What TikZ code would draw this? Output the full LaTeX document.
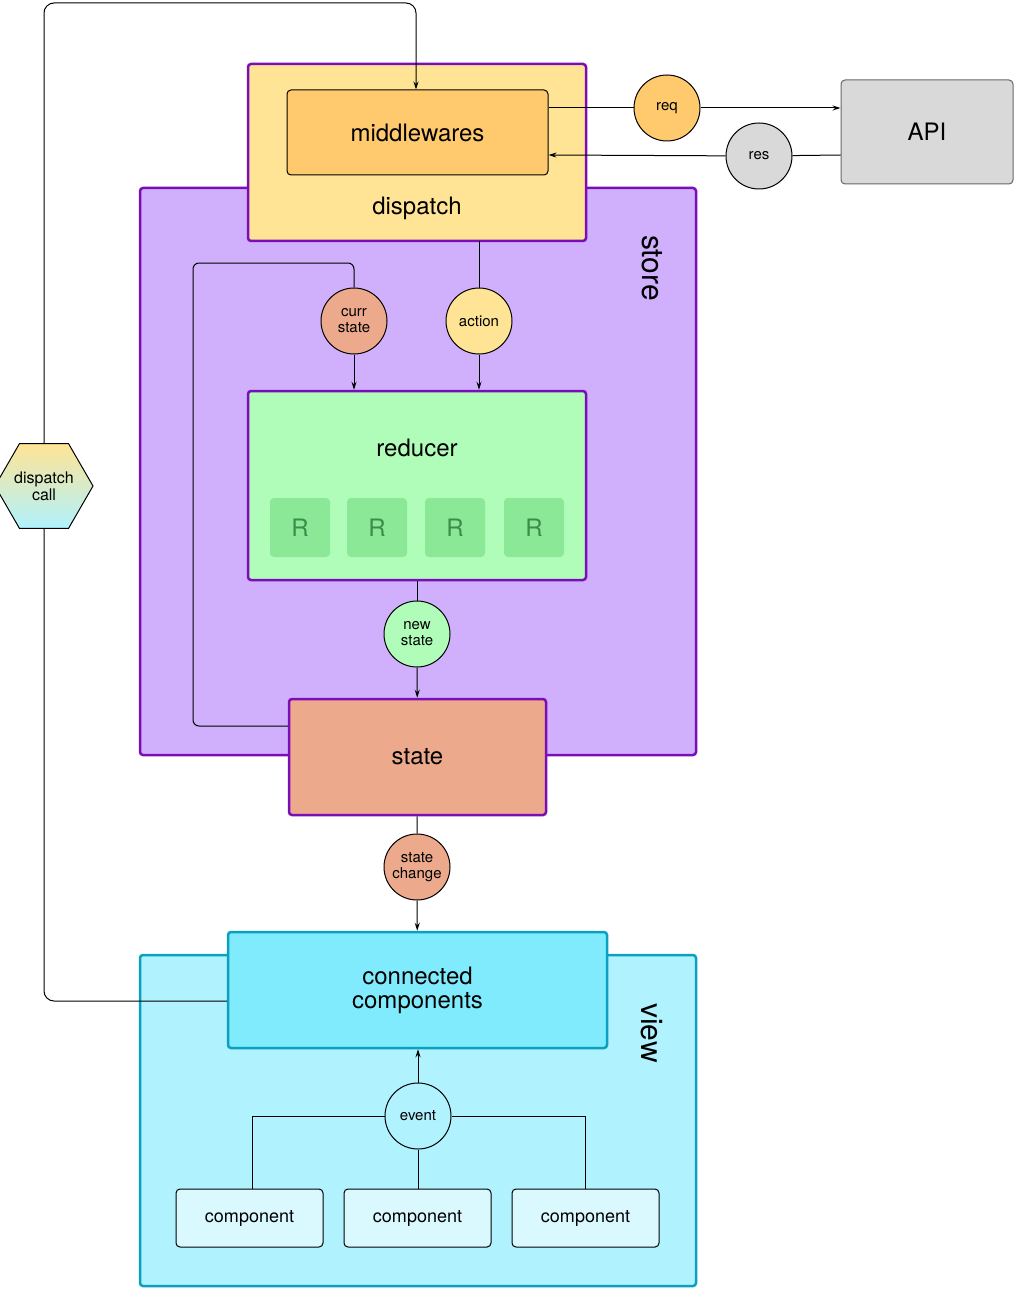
\documentclass[tikz,border=0pt]{standalone}
\usepackage{fontspec}
\setmainfont{TeX Gyre Heros}
\usetikzlibrary{arrows.meta,shapes.geometric}
\definecolor{pur}{HTML}{7A0DB8}
\definecolor{storef}{HTML}{D0B0FC}
\definecolor{dispf}{HTML}{FFE495}
\definecolor{midf}{HTML}{FFC96E}
\definecolor{apif}{HTML}{D9D9D9}
\definecolor{redf}{HTML}{AFFDB9}
\definecolor{rf}{HTML}{8AE897}
\definecolor{rt}{HTML}{3C8C4A}
\definecolor{statef}{HTML}{EDA98C}
\definecolor{viewf}{HTML}{B0F2FD}
\definecolor{viewd}{HTML}{0AA0C0}
\definecolor{ccf}{HTML}{7FEBFD}
\definecolor{compf}{HTML}{D9F9FE}
\begin{document}
\begin{tikzpicture}[x=1pt,y=-1pt,
  box/.style={draw,rounded corners=3pt,line width=#1},
  circ/.style={circle,draw,line width=1pt,minimum size=66pt,inner sep=0pt,align=center,font=\fontsize{15}{16}\selectfont},
  arr/.style={-{Stealth[length=8pt,width=5pt]},line width=1pt},
  ln/.style={line width=1pt},
  lbl/.style={font=\fontsize{24}{28}\selectfont,align=center},
  R/.style={fill=rf,rounded corners=4pt,minimum width=60pt,minimum height=59pt,text=rt,font=\fontsize{24}{24}\selectfont},
  comp/.style={draw,fill=compf,rounded corners=4pt,line width=1pt,minimum width=147pt,minimum height=58pt,font=\fontsize{18}{20}\selectfont}]
\useasboundingbox (0,0) rectangle (1014,1289);
% store and view backgrounds
\draw[box=2.5pt,draw=pur,fill=storef] (140,188) rectangle (696,755);
\node[rotate=-90,font=\fontsize{30}{30}\selectfont] (storel) at (652,268) {store};
\draw[box=2.5pt,draw=viewd,fill=viewf] (140,955) rectangle (696,1286);
\node[rotate=-90,font=\fontsize{30}{30}\selectfont] (viewl) at (652,1033) {view};
% dispatch
\draw[box=2.5pt,draw=pur,fill=dispf] (248,64) rectangle (586,241);
\node[lbl] (displ) at (417,208) {dispatch};
\node[draw,fill=midf,rounded corners=4pt,line width=1pt,minimum width=261pt,minimum height=85pt,lbl] (mw) at (417.5,132.5) {middlewares};
\node[draw=gray!80!black,fill=apif,rounded corners=4pt,line width=1pt,minimum width=172pt,minimum height=104pt,lbl] (api) at (927,132) {API};
\node[circ,fill=midf] (req) at (667,108) {req};
\node[circ,fill=apif] (res) at (759,156) {res};
% reducer
\node[draw=pur,fill=redf,rounded corners=3pt,line width=2.5pt,minimum width=338pt,minimum height=189pt,inner sep=0pt] (red) at (417,485.5) {};
\node[lbl] (redl) at (417,448) {reducer};
\node[R] (r1) at (300,527.5) {R};
\node[R] (r2) at (377,527.5) {R};
\node[R] (r3) at (455,527.5) {R};
\node[R] (r4) at (534,527.5) {R};
\node[circ,fill=statef] (curr) at (354,321) {curr\\state};
\node[circ,fill=dispf] (action) at (479,321) {action};
\node[circ,fill=redf] (new) at (417,634) {new\\state};
% state
\node[draw=pur,fill=statef,rounded corners=3pt,line width=2.5pt,minimum width=257pt,minimum height=116pt,lbl] (state) at (417.5,757) {state};
\node[circ,fill=statef] (chg) at (417,867) {state\\change};
% view
\node[draw=viewd,fill=ccf,rounded corners=3pt,line width=2.5pt,minimum width=379pt,minimum height=116pt,lbl,text width=300pt] (cc) at (417.5,990) {connected\\[-4pt]components};
\node[circ,fill=viewf] (event) at (418,1116) {event};
\node[comp] (c1) at (249.5,1218) {component};
\node[comp] (c2) at (417.5,1218) {component};
\node[comp] (c3) at (585.5,1218) {component};
% hexagon
\node[regular polygon,regular polygon sides=6,draw,line width=1pt,minimum size=98pt,inner sep=0pt,top color=dispf,bottom color=viewf,align=center,font=\fontsize{16}{17}\selectfont] (hex) at (44,486) {dispatch\\call};
% connectors
\draw[arr,rounded corners=10pt] (hex.north) -- (44,3) -- (416,3) -- (mw.north -| 416,64);
\draw[ln,rounded corners=10pt] (hex.south) -- (44,1001) -- (cc.west |- 0,1001);
\draw[ln] (mw.east |- 0,108) -- (req);
\draw[arr] (req) -- (api.west |- 0,108);
\draw[ln] (api.west |- 0,155) -- (res);
\draw[arr] (res) -- (mw.east |- 0,155);
\draw[ln] (479,241) -- (action);
\draw[arr] (action) -- (red.north -| action);
\draw[ln,rounded corners=6pt] (state.west |- 0,726) -- (193,726) -- (193,263) -- (354,263) -- (curr);
\draw[arr] (curr) -- (red.north -| curr);
\draw[ln] (red) -- (new);
\draw[arr] (new) -- (state);
\draw[ln] (state) -- (chg);
\draw[arr] (chg) -- (cc);
\draw[arr] (event) -- (cc.south -| event);
\draw[ln] (c1.north -| 252,0) -- (252,1116) -- (event);
\draw[ln] (c3.north -| 585,0) -- (585,1116) -- (event);
\draw[ln] (c2.north -| event) -- (event);
\end{tikzpicture}
\end{document}
